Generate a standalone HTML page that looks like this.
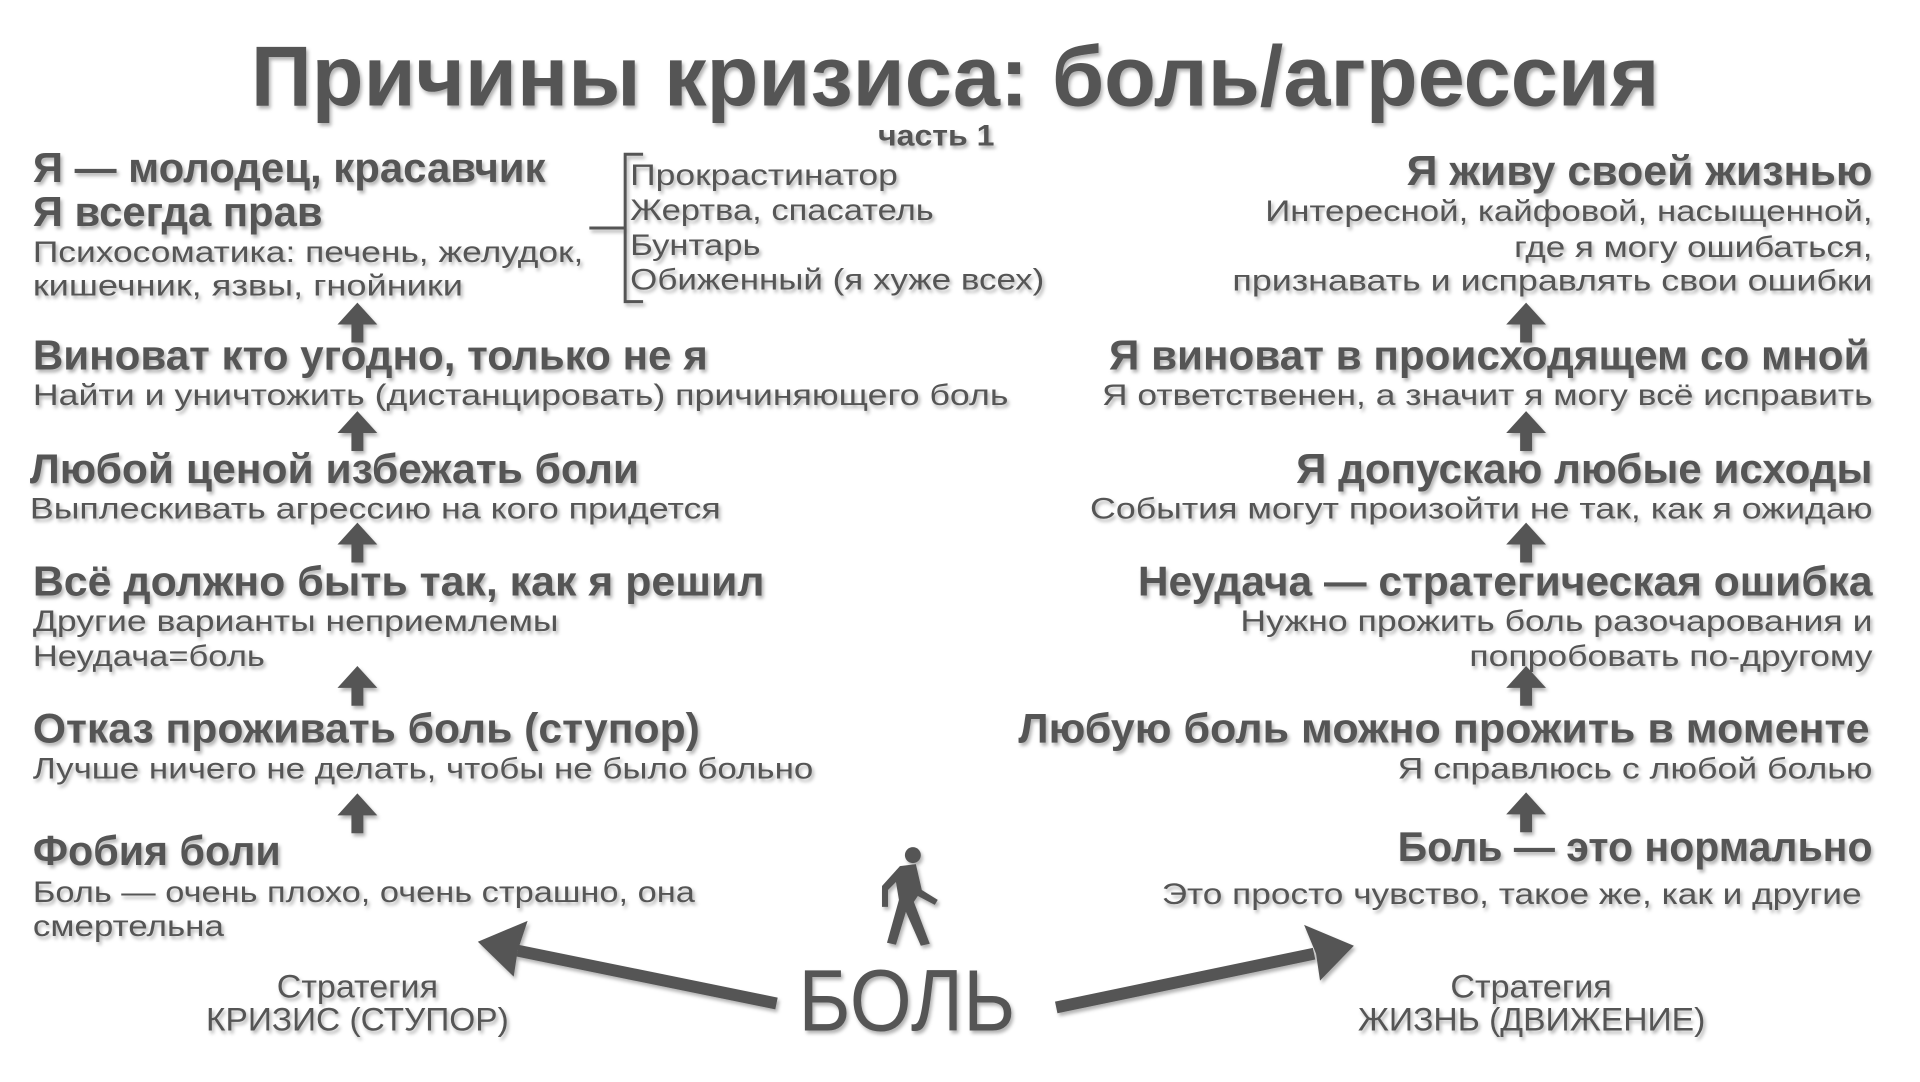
<!DOCTYPE html>
<html><head><meta charset="utf-8"><style>
html,body{margin:0;padding:0;background:#fff;width:1920px;height:1082px;overflow:hidden}
svg{display:block}
text{font-family:"Liberation Sans","DejaVu Sans",sans-serif;fill:#555}
.b{font-weight:bold;font-size:42px}
.r{font-size:30px}
.s{font-size:33px}
</style></head><body>
<svg width="1920" height="1082" viewBox="0 0 1920 1082" xmlns="http://www.w3.org/2000/svg">
<defs>
<filter id="sh" x="-5%" y="-20%" width="110%" height="140%"><feDropShadow dx="2" dy="3" stdDeviation="2" flood-color="#000" flood-opacity="0.3"/></filter>
<g id="up"><path d="M0 0 L20 22 L6 22 L6 40 L-6 40 L-6 22 L-20 22 Z" fill="#555"/></g>
</defs>
<g filter="url(#sh)" transform="scale(0.9955)">
<text x="252" y="106" style="font-weight:bold;font-size:86px" textLength="1415" lengthAdjust="spacingAndGlyphs">Причины кризиса: боль/агрессия</text>
<text x="882" y="146" style="font-weight:bold;font-size:30px" textLength="117" lengthAdjust="spacingAndGlyphs">часть 1</text>

<text class="b" x="33" y="183" textLength="515" lengthAdjust="spacingAndGlyphs">Я — молодец, красавчик</text>
<text class="b" x="33" y="227" textLength="291" lengthAdjust="spacingAndGlyphs">Я всегда прав</text>
<text class="r" x="33" y="263" textLength="553" lengthAdjust="spacingAndGlyphs">Психосоматика: печень, желудок,</text>
<text class="r" x="33" y="297" textLength="432" lengthAdjust="spacingAndGlyphs">кишечник, язвы, гнойники</text>
<path d="M646 155 H628 V303 H646 M628 229 H592" stroke="#555" stroke-width="3" fill="none"/>
<text class="r" x="633" y="186" textLength="269" lengthAdjust="spacingAndGlyphs">Прокрастинатор</text>
<text class="r" x="633" y="221" textLength="305" lengthAdjust="spacingAndGlyphs">Жертва, спасатель</text>
<text class="r" x="633" y="256" textLength="131" lengthAdjust="spacingAndGlyphs">Бунтарь</text>
<text class="r" x="633" y="291" textLength="416" lengthAdjust="spacingAndGlyphs">Обиженный (я хуже всех)</text>

<text class="b" x="33" y="371" textLength="678" lengthAdjust="spacingAndGlyphs">Виноват кто угодно, только не я</text>
<text class="r" x="33" y="407" textLength="980" lengthAdjust="spacingAndGlyphs">Найти и уничтожить (дистанцировать) причиняющего боль</text>
<text class="b" x="30" y="485" textLength="612" lengthAdjust="spacingAndGlyphs">Любой ценой избежать боли</text>
<text class="r" x="30" y="521" textLength="694" lengthAdjust="spacingAndGlyphs">Выплескивать агрессию на кого придется</text>
<text class="b" x="33" y="598" textLength="735" lengthAdjust="spacingAndGlyphs">Всё должно быть так, как я решил</text>
<text class="r" x="33" y="634" textLength="528" lengthAdjust="spacingAndGlyphs">Другие варианты неприемлемы</text>
<text class="r" x="33" y="669" textLength="233" lengthAdjust="spacingAndGlyphs">Неудача=боль</text>
<text class="b" x="33" y="746" textLength="670" lengthAdjust="spacingAndGlyphs">Отказ проживать боль (ступор)</text>
<text class="r" x="33" y="782" textLength="784" lengthAdjust="spacingAndGlyphs">Лучше ничего не делать, чтобы не было больно</text>
<text class="b" x="33" y="869" textLength="249" lengthAdjust="spacingAndGlyphs">Фобия боли</text>
<text class="r" x="33" y="906" textLength="665" lengthAdjust="spacingAndGlyphs">Боль — очень плохо, очень страшно, она</text>
<text class="r" x="33" y="940" textLength="192" lengthAdjust="spacingAndGlyphs">смертельна</text>

<use href="#up" x="359" y="304"/>
<use href="#up" x="359" y="413"/>
<use href="#up" x="359" y="525"/>
<use href="#up" x="359" y="669"/>
<use href="#up" x="359" y="797"/>

<text class="b" x="1413" y="186" textLength="468" lengthAdjust="spacingAndGlyphs">Я живу своей жизнью</text>
<text class="r" x="1271" y="222" textLength="610" lengthAdjust="spacingAndGlyphs">Интересной, кайфовой, насыщенной,</text>
<text class="r" x="1521" y="258" textLength="360" lengthAdjust="spacingAndGlyphs">где я могу ошибаться,</text>
<text class="r" x="1238" y="292" textLength="643" lengthAdjust="spacingAndGlyphs">признавать и исправлять свои ошибки</text>
<text class="b" x="1114" y="371" textLength="764" lengthAdjust="spacingAndGlyphs">Я виноват в происходящем со мной</text>
<text class="r" x="1107" y="407" textLength="774" lengthAdjust="spacingAndGlyphs">Я ответственен, а значит я могу всё исправить</text>
<text class="b" x="1302" y="485" textLength="579" lengthAdjust="spacingAndGlyphs">Я допускаю любые исходы</text>
<text class="r" x="1095" y="521" textLength="786" lengthAdjust="spacingAndGlyphs">События могут произойти не так, как я ожидаю</text>
<text class="b" x="1143" y="598" textLength="738" lengthAdjust="spacingAndGlyphs">Неудача — стратегическая ошибка</text>
<text class="r" x="1246" y="634" textLength="635" lengthAdjust="spacingAndGlyphs">Нужно прожить боль разочарования и</text>
<text class="r" x="1476" y="669" textLength="405" lengthAdjust="spacingAndGlyphs">попробовать по-другому</text>
<text class="b" x="1023" y="746" textLength="855" lengthAdjust="spacingAndGlyphs">Любую боль можно прожить в моменте</text>
<text class="r" x="1404" y="782" textLength="477" lengthAdjust="spacingAndGlyphs">Я справлюсь с любой болью</text>
<text class="b" x="1404" y="865" textLength="477" lengthAdjust="spacingAndGlyphs">Боль — это нормально</text>
<text class="r" x="1167" y="908" textLength="703" lengthAdjust="spacingAndGlyphs">Это просто чувство, такое же, как и другие</text>

<use href="#up" x="1533" y="304"/>
<use href="#up" x="1533" y="413"/>
<use href="#up" x="1533" y="525"/>
<use href="#up" x="1533" y="669"/>
<use href="#up" x="1533" y="796"/>

<g fill="#555" transform="translate(0,6)">
<circle cx="917" cy="853" r="8"/>
<path d="M904 864 L920 862 L926 888 L942 898 L939 903 L922 894 L918 900 L934 942 L925 944 L910 910 L900 943 L891 941 L903 898 L900 880 L892 888 L892 905 L886 905 L886 884 Z"/>
</g>
<g transform="translate(0,5)">
<text x="802" y="1030" style="font-size:88px" textLength="218" lengthAdjust="spacingAndGlyphs">БОЛЬ</text>
<line x1="780" y1="1003" x2="520" y2="950" stroke="#555" stroke-width="12"/>
<path d="M480 941 L530 920 L520 950 L516 976 Z" fill="#555"/>
<line x1="1061" y1="1007" x2="1320" y2="953" stroke="#555" stroke-width="12"/>
<path d="M1360 945 L1310 924 L1322 953 L1326 980 Z" fill="#555"/>

<text class="s" x="359" y="997" text-anchor="middle" textLength="162" lengthAdjust="spacingAndGlyphs">Стратегия</text>
<text class="s" x="207" y="1030" textLength="304" lengthAdjust="spacingAndGlyphs">КРИЗИС (СТУПОР)</text>
<text class="s" x="1538" y="997" text-anchor="middle" textLength="162" lengthAdjust="spacingAndGlyphs">Стратегия</text>
<text class="s" x="1364" y="1030" textLength="349" lengthAdjust="spacingAndGlyphs">ЖИЗНЬ (ДВИЖЕНИЕ)</text>
</g>
</g>
</svg>
</body></html>
